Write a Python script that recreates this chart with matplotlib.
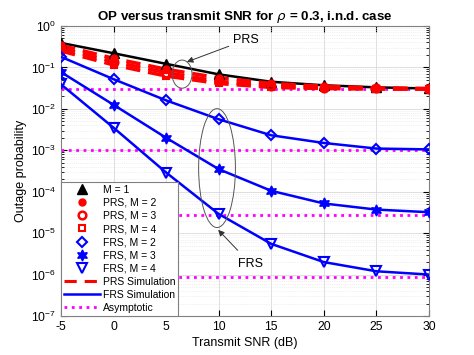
import matplotlib.pyplot as plt
import numpy as np
from matplotlib.lines import Line2D
from matplotlib.patches import Ellipse

plt.rcParams['font.family'] = ['Liberation Sans', 'DejaVu Sans']
plt.rcParams['mathtext.default'] = 'regular'
plt.rcParams['axes.unicode_minus'] = False

# Transmit SNR (dB)
snr = [-5, 0, 5, 10, 15, 20, 25, 30]

# outage probability
op_m1 = [0.39, 0.22, 0.122, 0.068, 0.045, 0.037, 0.033, 0.031]
prs_m2 = [0.34, 0.165, 0.09, 0.056, 0.041, 0.035, 0.032, 0.031]
prs_m3 = [0.29, 0.137, 0.075, 0.046, 0.036, 0.032, 0.031, 0.030]
prs_m4 = [0.25, 0.115, 0.062, 0.041, 0.033, 0.031, 0.030, 0.030]
frs_m2 = [0.18, 0.052, 0.016, 0.0056, 0.0023, 0.0015, 0.0011, 0.00105]
frs_m3 = [0.077, 0.0125, 0.0020, 3.5e-4, 1.05e-4, 5.2e-5, 3.7e-5, 3.2e-5]
frs_m4 = [0.039, 0.0035, 2.9e-4, 2.9e-5, 5.5e-6, 2.0e-6, 1.2e-6, 1.0e-6]

# asymptotic levels
asym_prs = 0.03
asym_frs = [1e-3, 2.7e-5, 8.5e-7]

fig = plt.figure(figsize=(4.74, 3.55), dpi=100)
ax = fig.add_axes([0.1287, 0.1099, 0.7763, 0.8169])

# asymptotes
for lvl in [asym_prs] + asym_frs:
    ax.plot([snr[0], snr[-1]], [lvl, lvl], ':', color='#ff00ff', lw=2, zorder=2)

# simulation lines
ax.plot(snr, op_m1, '-', color='black', lw=1.8, zorder=3)
for vals in [prs_m2, prs_m3, prs_m4]:
    ax.plot(snr, vals, '--', color='#ff0000', lw=2.6, dashes=(4, 2.2), zorder=3)
for vals in [frs_m2, frs_m3, frs_m4]:
    ax.plot(snr, vals, '-', color='#0000ff', lw=1.8, zorder=3)

# analytical markers
hexagram = (6, 1, 0)
ax.plot(snr, op_m1, '^', color='black', ms=6.5, mfc='black', ls='none', zorder=5, label='M = 1')
ax.plot(snr, prs_m2, 'o', color='red', ms=5, mfc='red', ls='none', zorder=5, label='PRS, M = 2')
ax.plot(snr, prs_m3, 'o', color='red', ms=5.5, mfc='none', mew=1.8, ls='none', zorder=5, label='PRS, M = 3')
ax.plot(snr, prs_m4, 's', color='red', ms=4, mfc='none', mew=1.5, ls='none', zorder=5, label='PRS, M = 4')
ax.plot(snr, frs_m2, 'D', color='blue', ms=5.5, mfc='none', mew=1.5, ls='none', zorder=5, label='FRS, M = 2')
ax.plot(snr, frs_m3, marker=hexagram, color='blue', ms=8, mfc='blue', ls='none', zorder=5, label='FRS, M = 3')
ax.plot(snr, frs_m4, 'v', color='blue', ms=6.5, mfc='none', mew=1.5, ls='none', zorder=5, label='FRS, M = 4')

handles, labels = ax.get_legend_handles_labels()
handles += [Line2D([], [], color='red', ls='--', lw=2.2, dashes=(4, 2.6)),
            Line2D([], [], color='blue', ls='-', lw=1.8),
            Line2D([], [], color='#ff00ff', ls=':', lw=2)]
labels += ['PRS Simulation', 'FRS Simulation', 'Asymptotic']

ax.set_yscale('log')
ax.set_xlim(-5, 30)
ax.set_ylim(1e-7, 1)
ax.set_xticks(np.arange(-5, 31, 5))
ax.set_yticks([10.0 ** k for k in range(-7, 1)])

ax.grid(True, which='major', color='#d9d9d9', lw=0.6)
ax.grid(True, which='minor', axis='y', color='#e3e3e3', lw=0.5, ls=':')
ax.set_axisbelow(True)
ax.tick_params(which='both', direction='in', top=True, right=True, labelsize=8.7)
ax.tick_params(which='major', length=4)
ax.tick_params(which='minor', length=2)
for s in ax.spines.values():
    s.set_color('#808080')
    s.set_linewidth(0.8)

ax.set_xlabel('Transmit SNR (dB)', fontsize=9, labelpad=3)
ax.set_ylabel('Outage probability', fontsize=9, labelpad=3)
ax.set_title(r'OP versus transmit SNR for $\it{\rho}$ = 0.3, i.n.d. case',
             fontsize=9.6, fontweight='bold', pad=4)

leg = ax.legend(handles, labels, loc='lower left', fontsize=7.5, frameon=True,
                fancybox=False, framealpha=1, edgecolor='#808080',
                borderaxespad=0, handlelength=3.4, handletextpad=0.3,
                labelspacing=0.3, borderpad=0.3)
leg.get_frame().set_linewidth(0.8)
leg.set_zorder(10)

# annotation ellipses and arrows (axes fractions)
ax.add_patch(Ellipse((0.329, 0.834), 0.054, 0.097, transform=ax.transAxes, fill=False,
                     color='#555555', lw=0.7, zorder=6))
ax.add_patch(Ellipse((0.424, 0.51), 0.1, 0.41, transform=ax.transAxes, fill=False,
                     color='#555555', lw=0.7, zorder=6))
ax.annotate('PRS', xy=(0.342, 0.876), xycoords='axes fraction',
            xytext=(0.467, 0.952), textcoords='axes fraction', fontsize=9,
            va='center', ha='left',
            arrowprops=dict(arrowstyle='-|>', color='#333333', lw=0.7, shrinkA=1, shrinkB=0))
ax.annotate('FRS', xy=(0.427, 0.297), xycoords='axes fraction',
            xytext=(0.516, 0.179), textcoords='axes fraction', fontsize=9,
            va='center', ha='center',
            arrowprops=dict(arrowstyle='-|>', color='#333333', lw=0.7, shrinkA=5, shrinkB=0))

fig.savefig('out.png', dpi=100)
